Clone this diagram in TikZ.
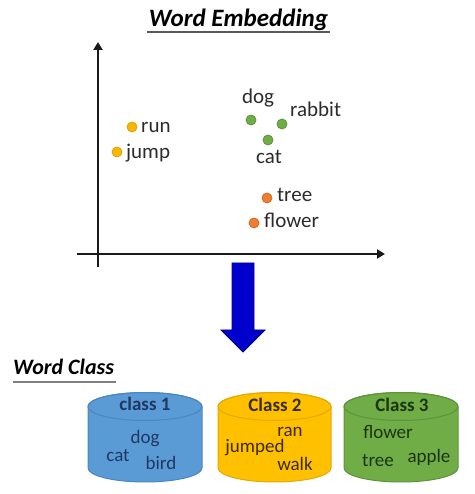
\documentclass[tikz,border=0pt]{standalone}
\usepackage{fontspec}
\setmainfont{Carlito}
\usetikzlibrary{arrows.meta}
\definecolor{cyl1}{HTML}{5B9BD5}
\definecolor{cyl1d}{HTML}{4A86C0}
\definecolor{cyl1t}{HTML}{1F3864}
\definecolor{cyl2}{HTML}{FFC000}
\definecolor{cyl2d}{HTML}{E3AA00}
\definecolor{cyl2t}{HTML}{3A2C00}
\definecolor{cyl3}{HTML}{70AD47}
\definecolor{cyl3d}{HTML}{5E933B}
\definecolor{cyl3t}{HTML}{1C3510}
\definecolor{dotY}{HTML}{F5B800}
\definecolor{dotYd}{HTML}{E0A200}
\definecolor{dotG}{HTML}{70AD47}
\definecolor{dotGd}{HTML}{5E933B}
\definecolor{dotO}{HTML}{ED7D31}
\definecolor{dotOd}{HTML}{D56A22}
\definecolor{lbl}{HTML}{2B2B2B}
\definecolor{arrblue}{HTML}{0000CC}
\definecolor{arrbd}{HTML}{00008B}
\tikzset{
  wdot/.style={circle, inner sep=0pt, minimum size=10pt, line width=0.8pt},
  wlabel/.style={inner sep=0pt, font=\fontsize{21}{25}\selectfont, text=lbl},
  ctext/.style={inner sep=0pt, font=\fontsize{19}{23}\selectfont},
  chead/.style={inner sep=0pt, font=\fontsize{19}{23}\selectfont\bfseries},
  axis/.style={line width=2.6pt, draw=black!90, -{Triangle[length=8pt,width=9pt]}},
}
\begin{document}
\begin{tikzpicture}[x=1pt,y=1pt]
\useasboundingbox (0,0) rectangle (474,494);
% title
\node[inner sep=0pt, anchor=base, font=\fontsize{25}{30}\selectfont\bfseries\itshape] (title) at (238.5,467) {Word Embedding};
\coordinate (tul) at (147,462);
\coordinate (tur) at (330,462);
\draw[line width=2.6pt, draw=black!65] (tul) -- (tur);
% axes
\coordinate (yb) at (98,227);
\coordinate (yt) at (98,452);
\coordinate (xl) at (77,240);
\coordinate (xr) at (385,240);
\draw[axis] (yb) -- (yt);
\draw[axis] (xl) -- (xr);
% dots
\node[wdot, fill=dotY, draw=dotYd] (drun) at (132,367) {};
\node[wdot, fill=dotY, draw=dotYd] (djump) at (117,342) {};
\node[wdot, fill=dotG, draw=dotGd] (ddog) at (251,374) {};
\node[wdot, fill=dotG, draw=dotGd] (drabbit) at (282,370) {};
\node[wdot, fill=dotG, draw=dotGd] (dcat) at (268,354) {};
\node[wdot, fill=dotO, draw=dotOd] (dtree) at (267,296) {};
\node[wdot, fill=dotO, draw=dotOd] (dflower) at (254,271) {};
% labels
\node[wlabel, anchor=base west] (lrun) at (141,361) {run};
\node[wlabel, anchor=base west] (ljump) at (126,335) {jump};
\node[wlabel, anchor=base] (ldog) at (258,390) {dog};
\node[wlabel, anchor=base west] (lrabbit) at (290,377) {rabbit};
\node[wlabel, anchor=base] (lcat) at (269,330) {cat};
\node[wlabel, anchor=base west] (ltree) at (277,292) {tree};
\node[wlabel, anchor=base west] (lflower) at (264,266) {flower};
% big arrow
\coordinate (atip) at (243,142);
\fill[arrblue, draw=arrbd, line width=0.8pt, line join=miter]
  (232,231) -- (254,231) -- (254,164) -- (265,164) -- (atip) -- (221,164) -- (232,164) -- cycle;
% word class heading
\node[inner sep=0pt, anchor=base west, font=\fontsize{22}{26}\selectfont\bfseries\itshape] (wc) at (13,119) {Word Class};
\coordinate (wul) at (13,112);
\coordinate (wur) at (116,112);
\draw[line width=1.8pt, draw=black!50] (wul) -- (wur);
% cylinders
\foreach \cx/\rx/\fc/\dc in {145/57/cyl1/cyl1d, 274.5/56.5/cyl2/cyl2d, 401/57/cyl3/cyl3d}{
  \filldraw[fill=\fc, draw=\dc, line width=1pt]
    (\cx-\rx,87.5) -- (\cx-\rx,26) arc[start angle=180, end angle=360, x radius=\rx, y radius=14]
    -- (\cx+\rx,87.5) arc[start angle=0, end angle=180, x radius=\rx, y radius=14] -- cycle;
  \draw[draw=\dc, line width=1pt] (\cx,87.5) ellipse[x radius=\rx, y radius=14];
}
% cylinder texts
\node[chead, text=cyl1t, anchor=base] (c1h) at (145,83) {class 1};
\node[ctext, text=cyl1t, anchor=base] (c1a) at (145,50) {dog};
\node[ctext, text=cyl1t, anchor=base] (c1b) at (118,32) {cat};
\node[ctext, text=cyl1t, anchor=base] (c1c) at (161,24) {bird};
\node[chead, text=cyl2t, anchor=base] (c2h) at (275,82) {Class 2};
\node[ctext, text=cyl2t, anchor=base] (c2a) at (290,57) {ran};
\node[ctext, text=cyl2t, anchor=base] (c2b) at (255,41) {jumped};
\node[ctext, text=cyl2t, anchor=base] (c2c) at (295,23) {walk};
\node[chead, text=cyl3t, anchor=base] (c3h) at (402,82) {Class 3};
\node[ctext, text=cyl3t, anchor=base] (c3a) at (388,55) {flower};
\node[ctext, text=cyl3t, anchor=base] (c3b) at (378,27) {tree};
\node[ctext, text=cyl3t, anchor=base] (c3c) at (429,31) {apple};
\end{tikzpicture}
\end{document}
